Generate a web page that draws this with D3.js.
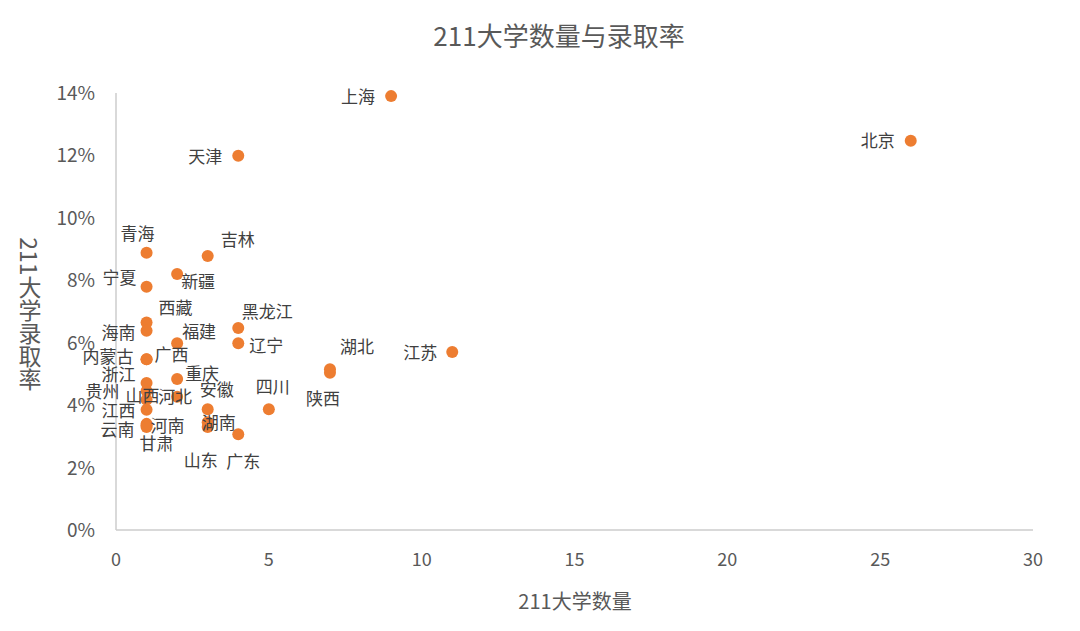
<!DOCTYPE html>
<html>
<head>
<meta charset="utf-8">
<script src="https://cdn.jsdelivr.net/npm/d3@7/dist/d3.min.js"></script>
<style>
  body { margin: 0; background: #fff; }
  svg text { font-family: "Noto Sans CJK SC", "Noto Sans", sans-serif; }
</style>
</head>
<body>
<div id="chart"></div>
<script>
// Province names, number of 211 universities, admission rate (%)
const provinces = ["上海", "北京", "天津", "青海", "吉林", "新疆", "宁夏", "西藏", "海南", "黑龙江",
    "辽宁", "福建", "广西", "内蒙古", "重庆", "浙江", "贵州", "山西", "河北", "安徽",
    "四川", "江西", "湖南", "山东", "广东", "云南", "河南", "甘肃", "湖北", "陕西", "江苏"];
const uniCounts = [9, 26, 4, 1, 3, 2, 1, 1, 1, 4,
    4, 2, 1, 1, 2, 1, 1, 1, 2, 3,
    5, 1, 3, 3, 4, 1, 1, 1, 7, 7, 11];
const admitRates = [13.9, 12.47, 11.99, 8.88, 8.78, 8.2, 7.79, 6.65, 6.38, 6.47,
    5.98, 5.98, 5.47, 5.47, 4.84, 4.71, 4.45, 4.17, 4.27, 3.87,
    3.87, 3.85, 3.45, 3.3, 3.07, 3.4, 3.35, 3.3, 5.15, 5.04, 5.7];

// label offsets (px) from each dot, and text anchor
const labelDx = [-16, -16, -16, -9, 30, 4, -10, 12, -11, 29,
    11, 22, 8, -13, 8, -11, -27, -4, -2, 9,
    4, -11, 11, -7, 5, -12, 21, 10, 27, -7, -15];
const labelDy = [1, 0, 1, -19, -16, 8, -9, -14, 2, -16,
    3, -11, -4, -2, -5, -8, 1, -4, 0, -19,
    -22, 1, 1, 34, 28, 6, 1, 17, -22, 26, 1];
const labelAnchor = ["end", "end", "end", "middle", "middle", "start", "end", "start", "end", "middle",
    "start", "middle", "start", "end", "start", "end", "end", "middle", "middle", "middle",
    "middle", "end", "middle", "middle", "middle", "end", "middle", "middle", "middle", "middle", "end"];

const xTicks = [0, 5, 10, 15, 20, 25, 30];
const yTicks = [0, 2, 4, 6, 8, 10, 12, 14];

const width = 1080, height = 631;
const plotLeft = 116, plotRight = 1033, plotTop = 93, plotBottom = 530;
const textColor = "#595959";

const svg = d3.select("#chart").append("svg")
    .attr("width", width)
    .attr("height", height);

const x = d3.scaleLinear().domain([0, 30]).range([plotLeft, plotRight]);
const y = d3.scaleLinear().domain([0, 14]).range([plotBottom, plotTop]);

// Title
svg.append("text")
    .attr("x", 559)
    .attr("y", 46)
    .attr("text-anchor", "middle")
    .style("font-size", "26px")
    .style("fill", textColor)
    .text("211大学数量与录取率");

// Axes lines
svg.append("line")
    .attr("x1", x(0)).attr("x2", x(30))
    .attr("y1", y(0)).attr("y2", y(0))
    .attr("stroke", "#cccccc").attr("stroke-width", 1.5);
svg.append("line")
    .attr("x1", x(0)).attr("x2", x(0))
    .attr("y1", y(0)).attr("y2", y(14))
    .attr("stroke", "#cccccc").attr("stroke-width", 1.5);

// Tick labels
svg.selectAll(".xtick")
    .data(xTicks)
    .enter()
    .append("text")
    .attr("x", d => x(d))
    .attr("y", 566)
    .attr("text-anchor", "middle")
    .style("font-size", "18px")
    .style("fill", textColor)
    .text(d => d);

svg.selectAll(".ytick")
    .data(yTicks)
    .enter()
    .append("text")
    .attr("x", 95)
    .attr("y", d => y(d) + 7)
    .attr("text-anchor", "end")
    .style("font-size", "19px")
    .style("fill", textColor)
    .text(d => d + "%");

// Axis titles
svg.append("text")
    .attr("x", 575)
    .attr("y", 609)
    .attr("text-anchor", "middle")
    .style("font-size", "20px")
    .style("fill", textColor)
    .text("211大学数量");

svg.append("text")
    .attr("x", 30)
    .attr("y", 314)
    .attr("text-anchor", "middle")
    .style("writing-mode", "vertical-rl")
    .style("font-size", "23px")
    .style("fill", textColor)
    .text("211大学录取率");

const points = provinces.map((p, i) => ({
    name: p, count: uniCounts[i], rate: admitRates[i],
    dx: labelDx[i], dy: labelDy[i], anchor: labelAnchor[i]
}));

// Dots
svg.selectAll(".dot")
    .data(points)
    .enter()
    .append("circle")
    .attr("cx", d => x(d.count))
    .attr("cy", d => y(d.rate))
    .attr("r", 6)
    .attr("fill", "#ed7d31");

// Labels
svg.selectAll(".lbl")
    .data(points)
    .enter()
    .append("text")
    .attr("x", d => x(d.count) + d.dx)
    .attr("y", d => y(d.rate) + d.dy + 6)
    .attr("text-anchor", d => d.anchor)
    .style("font-size", "17px")
    .style("fill", "#404040")
    .text(d => d.name);
</script>
</body>
</html>
